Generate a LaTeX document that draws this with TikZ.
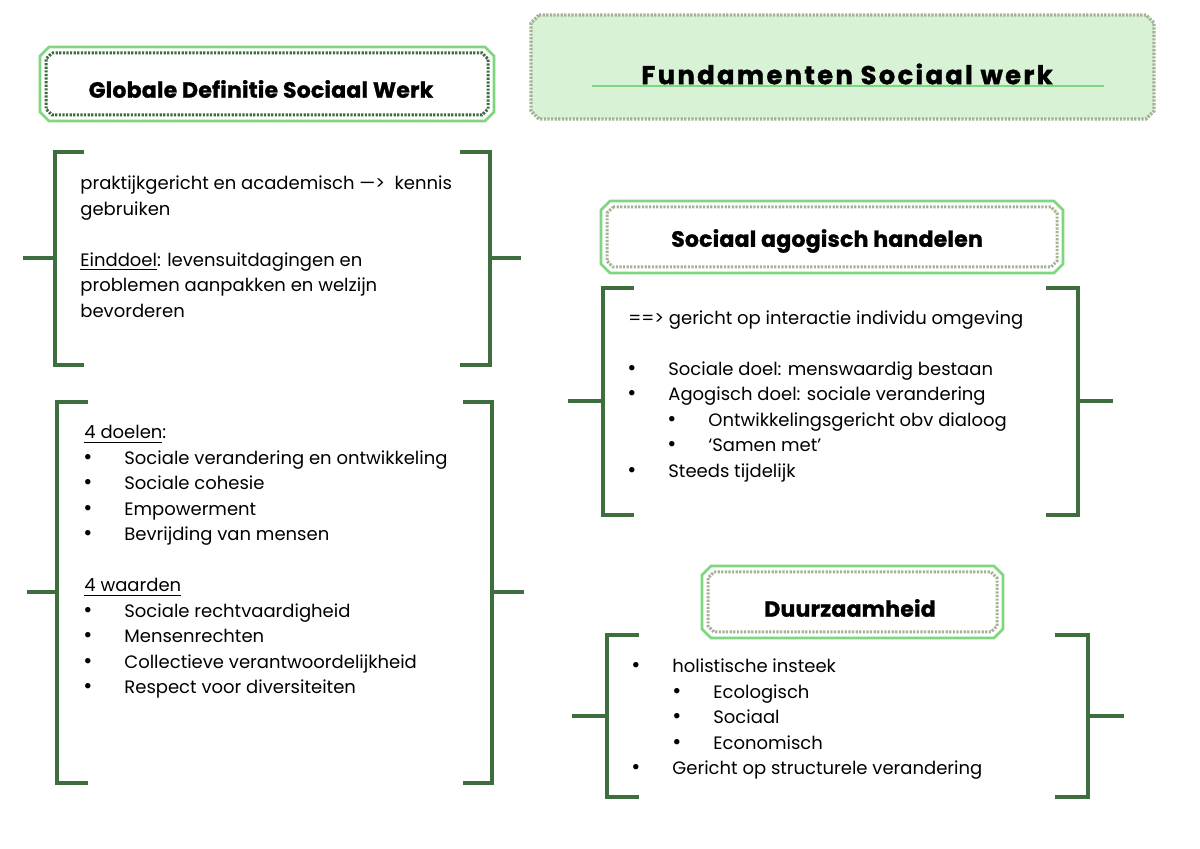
\documentclass[tikz,border=0pt]{standalone}
\usepackage{fontspec}
\setmainfont{Poppins}
\definecolor{brk}{HTML}{3E6E3E}
\definecolor{lgreen}{HTML}{7ED67E}
\definecolor{dgreen}{HTML}{3D6B3D}
\definecolor{ggreen}{HTML}{A3B394}
\definecolor{fillg}{HTML}{D7F2D5}
\newcounter{lnc}
\newcommand\tl[3]{\stepcounter{lnc}\node[txt] (l\thelnc) at (#1,#2) {#3};}
\newcommand\bl[3]{\stepcounter{lnc}\node[bul] (b\thelnc) at (#1,#2) {•};\stepcounter{lnc}\node[txt] (l\thelnc) at (#1+36,#2) {#3};}
% chamfered outline: x1 y1 x2 y2 chamfer
\newcommand\champath[5]{(#1+#5,#2) -- (#3-#5,#2) -- (#3,#2+#5) -- (#3,#4-#5) -- (#3-#5,#4) -- (#1+#5,#4) -- (#1,#4-#5) -- (#1,#2+#5) -- cycle}
\newcommand\plaque[5]{%
  \draw[plaqueout] \champath{#1}{#2}{#3}{#4}{9};
  \draw[plaquein,draw=#5] \champath{#1+6}{#2+6}{#3-6}{#4-6}{6};}
\begin{document}
\begin{tikzpicture}[x=0.5pt,y=-0.5pt,
  txt/.style={anchor=base west,inner sep=0pt,font=\fontsize{9}{11}\selectfont},
  bul/.style={anchor=base,inner sep=0pt,font=\fontsize{11}{11}\selectfont},
  brack/.style={draw=brk,line width=1.75pt,line cap=butt,line join=miter},
  plaqueout/.style={draw=lgreen,line width=1.4pt,line join=miter},
  plaquein/.style={line width=1.5pt,dash pattern=on 1.1pt off 0.7pt},
  head/.style={font=\fontsize{11}{13}\selectfont\bfseries\addfontfeatures{FakeBold=1.2,LetterSpace=1},inner sep=0pt}]
\useasboundingbox[fill=white] (0,0) rectangle (1200,849);

% ---------- title plaque: Fundamenten ----------
\draw[fill=fillg,draw=ggreen,line width=1.6pt,dash pattern=on 1.1pt off 0.7pt] \champath{531}{15}{1154}{119}{8};
\node[inner sep=0pt,font=\fontsize{12.9}{15}\selectfont\bfseries\addfontfeatures{FakeBold=1.2,LetterSpace=9}] (fundt) at (847,74) {Fundamenten Sociaal werk};
\coordinate (ul1) at (592,86);
\coordinate (ul2) at (1104,86);
\draw[lgreen,line width=0.8pt] (ul1) -- (ul2);

% ---------- plaque: Globale Definitie ----------
\plaque{40}{47}{494}{121}{dgreen}
\node[head] (glot) at (261,89) {Globale Definitie Sociaal Werk};

% ---------- plaque: Sociaal agogisch handelen ----------
\plaque{601}{201}{1063}{273}{ggreen}
\node[head] (saht) at (827,241) {Sociaal agogisch handelen};

% ---------- plaque: Duurzaamheid ----------
\plaque{702}{566}{1003}{638}{ggreen}
\node[head] (duut) at (850,608) {Duurzaamheid};

% ---------- brackets ----------
% box 1
\draw[brack] (84,152) -- (55,152) -- (55,365) -- (84,365);
\draw[brack] (23,258) -- (55,258);
\draw[brack] (460,152) -- (490,152) -- (490,365) -- (460,365);
\draw[brack] (490,258) -- (521,258);
% box 2
\draw[brack] (88,402) -- (57,402) -- (57,783) -- (88,783);
\draw[brack] (27,592) -- (57,592);
\draw[brack] (463,402) -- (492,402) -- (492,783) -- (463,783);
\draw[brack] (492,592) -- (524,592);
% box 3
\draw[brack] (634,288) -- (603,288) -- (603,515) -- (634,515);
\draw[brack] (568,401) -- (603,401);
\draw[brack] (1046,288) -- (1078,288) -- (1078,515) -- (1046,515);
\draw[brack] (1078,401) -- (1113,401);
% box 4
\draw[brack] (639,635) -- (607,635) -- (607,797) -- (639,797);
\draw[brack] (572,716) -- (607,716);
\draw[brack] (1055,635) -- (1088,635) -- (1088,797) -- (1055,797);
\draw[brack] (1088,716) -- (1124,716);

% ---------- text box 1 ----------
\tl{80}{190}{praktijkgericht en academisch —>\ \ kennis}
\tl{80}{215.5}{gebruiken}
\tl{80}{266.5}{\underline{Einddoel}: levensuitdagingen en}
\tl{80}{292}{problemen aanpakken en welzijn}
\tl{80}{317.5}{bevorderen}

% ---------- text box 2 ----------
\tl{84}{439}{\underline{4 doelen}:}
\bl{88}{464.5}{Sociale verandering en ontwikkeling}
\bl{88}{490}{Sociale cohesie}
\bl{88}{515.5}{Empowerment}
\bl{88}{541}{Bevrijding van mensen}
\tl{84}{592}{\underline{4 waarden}}
\bl{88}{617.5}{Sociale rechtvaardigheid}
\bl{88}{643}{Mensenrechten}
\bl{88}{668.5}{Collectieve verantwoordelijkheid}
\bl{88}{694}{Respect voor diversiteiten}

% ---------- text box 3 ----------
\tl{628}{325}{==> gericht op interactie individu omgeving}
\bl{632}{375.5}{Sociale doel: menswaardig bestaan}
\bl{632}{401}{Agogisch doel: sociale verandering}
\bl{672}{426.5}{Ontwikkelingsgericht obv dialoog}
\bl{672}{452}{‘Samen met’}
\bl{632}{477.5}{Steeds tijdelijk}

% ---------- text box 4 ----------
\bl{636}{673}{holistische insteek}
\bl{677}{698.5}{Ecologisch}
\bl{677}{724}{Sociaal}
\bl{677}{749.5}{Economisch}
\bl{636}{775}{Gericht op structurele verandering}
\end{tikzpicture}
\end{document}
